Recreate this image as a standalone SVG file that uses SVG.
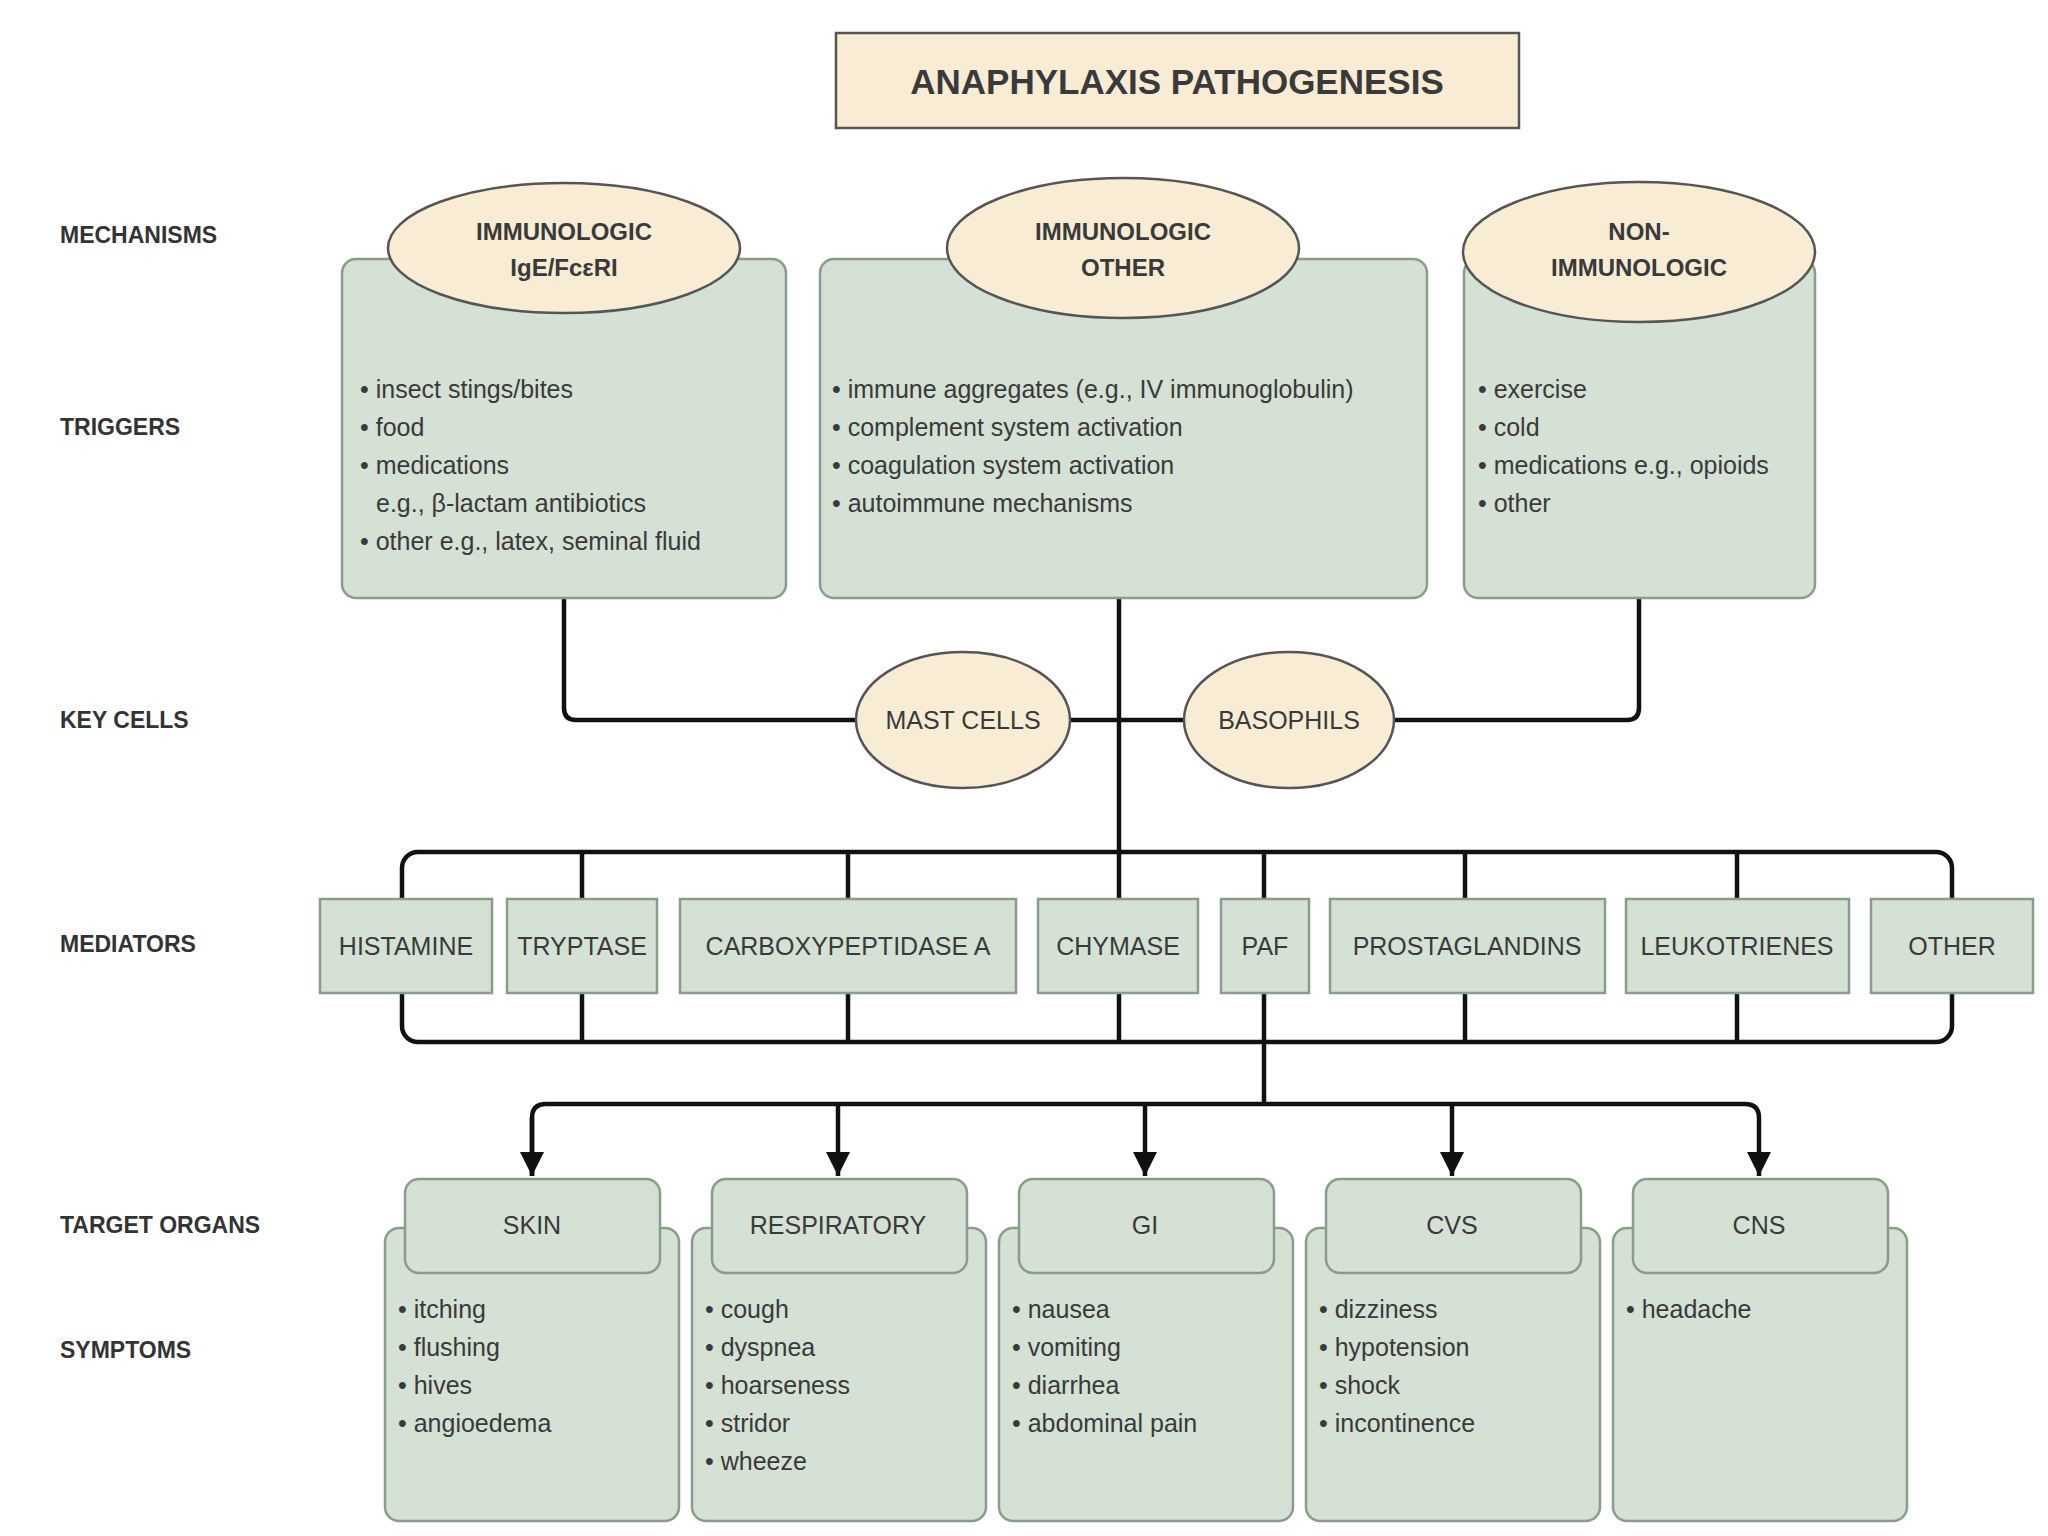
<svg xmlns="http://www.w3.org/2000/svg" width="2048" height="1536" viewBox="0 0 2048 1536">
<style>
text{font-family:"Liberation Sans Narrow","Liberation Sans",Arial,sans-serif;fill:#3a3a3a}
.lbl{font-size:23px;font-weight:bold;fill:#333}
.g{fill:#d4e1d4;stroke:#8a9c8a;stroke-width:2.5}
.c{fill:#f8ecd4;stroke:#555;stroke-width:2.5}
.t{font-size:25px}
.h{font-size:24px;font-weight:bold;text-anchor:middle}
.m{font-size:25px;text-anchor:middle}
.ln{fill:none;stroke:#111;stroke-width:4.5}
</style>
<defs>
<marker id="ar" viewBox="0 0 10 10" refX="10" refY="5" markerWidth="24" markerHeight="24" markerUnits="userSpaceOnUse" orient="auto"><path d="M0,0L10,5L0,10z" fill="#111"/></marker></defs>
<rect width="2048" height="1536" fill="#fff"/>
<g id="title"><rect x="836" y="33" width="683" height="95" class="c"/><text x="1177" y="94" font-size="35" font-weight="bold" text-anchor="middle" fill="#333">ANAPHYLAXIS PATHOGENESIS</text></g>
<g id="rowlabels">
<text class="lbl" x="60" y="243">MECHANISMS</text>
<text class="lbl" x="60" y="435">TRIGGERS</text>
<text class="lbl" x="60" y="728">KEY CELLS</text>
<text class="lbl" x="60" y="952">MEDIATORS</text>
<text class="lbl" x="60" y="1233">TARGET ORGANS</text>
<text class="lbl" x="60" y="1358">SYMPTOMS</text>
</g>
<g id="connectors">
<path class="ln" d="M564,598V708q0,12 12,12H860"/>
<path class="ln" d="M1639,598V708q0,12 -12,12H1390"/>
<path class="ln" d="M1060,720H1190"/>
<path class="ln" d="M1119,598V1042"/>
<rect class="ln" x="402" y="852" width="1550" height="190" rx="16"/>
<path class="ln" d="M582,852V1042M848,852V1042M1264,852V1042M1465,852V1042M1737,852V1042"/>
<path class="ln" d="M1264,1042V1104"/>
<path class="ln" d="M532,1176V1118q0,-14 14,-14H1745q14,0 14,14V1176" marker-end="url(#ar)"/>
<path class="ln" d="M532,1118V1176" marker-end="url(#ar)"/>
<path class="ln" d="M838,1104V1176" marker-end="url(#ar)"/>
<path class="ln" d="M1145,1104V1176" marker-end="url(#ar)"/>
<path class="ln" d="M1452,1104V1176" marker-end="url(#ar)"/>
</g>
<g id="mech1"><rect class="g" x="342" y="259" width="444" height="339" rx="14"/><ellipse class="c" cx="564" cy="248" rx="176" ry="65"/>
<text class="h" x="564" y="240">IMMUNOLOGIC</text><text class="h" x="564" y="276">IgE/FcεRI</text>
<text class="t" x="360" y="398">• insect stings/bites</text><text class="t" x="360" y="436">• food</text><text class="t" x="360" y="474">• medications</text><text class="t" x="376" y="512">e.g., β-lactam antibiotics</text><text class="t" x="360" y="550">• other e.g., latex, seminal fluid</text></g>
<g id="mech2"><rect class="g" x="820" y="259" width="607" height="339" rx="14"/><ellipse class="c" cx="1123" cy="248" rx="176" ry="70"/>
<text class="h" x="1123" y="240">IMMUNOLOGIC</text><text class="h" x="1123" y="276">OTHER</text>
<text class="t" x="832" y="398">• immune aggregates (e.g., IV immunoglobulin)</text><text class="t" x="832" y="436">• complement system activation</text><text class="t" x="832" y="474">• coagulation system activation</text><text class="t" x="832" y="512">• autoimmune mechanisms</text></g>
<g id="mech3"><rect class="g" x="1464" y="259" width="351" height="339" rx="14"/><ellipse class="c" cx="1639" cy="252" rx="176" ry="70"/>
<text class="h" x="1639" y="240">NON-</text><text class="h" x="1639" y="276">IMMUNOLOGIC</text>
<text class="t" x="1478" y="398">• exercise</text><text class="t" x="1478" y="436">• cold</text><text class="t" x="1478" y="474">• medications e.g., opioids</text><text class="t" x="1478" y="512">• other</text></g>
<g id="mast"><ellipse class="c" cx="963" cy="720" rx="107" ry="68"/><text class="m" x="963" y="729">MAST CELLS</text></g>
<g id="baso"><ellipse class="c" cx="1289" cy="720" rx="105" ry="68"/><text class="m" x="1289" y="729">BASOPHILS</text></g>
<g id="mediators">
<rect class="g" x="320" y="899" width="172" height="94"/><text class="m" x="406" y="955">HISTAMINE</text>
<rect class="g" x="507" y="899" width="150" height="94"/><text class="m" x="582" y="955">TRYPTASE</text>
<rect class="g" x="680" y="899" width="336" height="94"/><text class="m" x="848" y="955">CARBOXYPEPTIDASE A</text>
<rect class="g" x="1038" y="899" width="160" height="94"/><text class="m" x="1118" y="955">CHYMASE</text>
<rect class="g" x="1221" y="899" width="88" height="94"/><text class="m" x="1265" y="955">PAF</text>
<rect class="g" x="1330" y="899" width="275" height="94"/><text class="m" x="1467" y="955">PROSTAGLANDINS</text>
<rect class="g" x="1626" y="899" width="223" height="94"/><text class="m" x="1737" y="955">LEUKOTRIENES</text>
<rect class="g" x="1871" y="899" width="162" height="94"/><text class="m" x="1952" y="955">OTHER</text>
</g>
<g id="skin"><rect class="g" x="385" y="1228" width="294" height="293" rx="14"/><rect class="g" x="405" y="1179" width="255" height="94" rx="14"/><text class="m" x="532" y="1234">SKIN</text>
<text class="t" x="398" y="1318">• itching</text><text class="t" x="398" y="1356">• flushing</text><text class="t" x="398" y="1394">• hives</text><text class="t" x="398" y="1432">• angioedema</text></g>
<g id="resp"><rect class="g" x="692" y="1228" width="294" height="293" rx="14"/><rect class="g" x="712" y="1179" width="255" height="94" rx="14"/><text class="m" x="838" y="1234">RESPIRATORY</text>
<text class="t" x="705" y="1318">• cough</text><text class="t" x="705" y="1356">• dyspnea</text><text class="t" x="705" y="1394">• hoarseness</text><text class="t" x="705" y="1432">• stridor</text><text class="t" x="705" y="1470">• wheeze</text></g>
<g id="gi"><rect class="g" x="999" y="1228" width="294" height="293" rx="14"/><rect class="g" x="1019" y="1179" width="255" height="94" rx="14"/><text class="m" x="1145" y="1234">GI</text>
<text class="t" x="1012" y="1318">• nausea</text><text class="t" x="1012" y="1356">• vomiting</text><text class="t" x="1012" y="1394">• diarrhea</text><text class="t" x="1012" y="1432">• abdominal pain</text></g>
<g id="cvs"><rect class="g" x="1306" y="1228" width="294" height="293" rx="14"/><rect class="g" x="1326" y="1179" width="255" height="94" rx="14"/><text class="m" x="1452" y="1234">CVS</text>
<text class="t" x="1319" y="1318">• dizziness</text><text class="t" x="1319" y="1356">• hypotension</text><text class="t" x="1319" y="1394">• shock</text><text class="t" x="1319" y="1432">• incontinence</text></g>
<g id="cns"><rect class="g" x="1613" y="1228" width="294" height="293" rx="14"/><rect class="g" x="1633" y="1179" width="255" height="94" rx="14"/><text class="m" x="1759" y="1234">CNS</text>
<text class="t" x="1626" y="1318">• headache</text></g>
</svg>
